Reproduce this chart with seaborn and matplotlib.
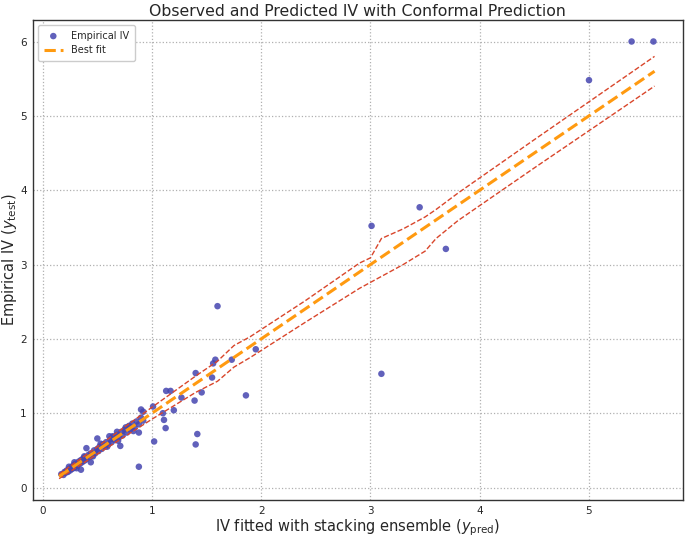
import matplotlib
matplotlib.use("Agg")
import matplotlib.pyplot as plt
import seaborn as sns
import pandas as pd

# predicted (x) and empirical (y) IV values
pred_iv = [
    0.17, 0.19, 0.20, 0.21, 0.22, 0.23, 0.24, 0.25, 0.26, 0.27, 0.28, 0.29, 0.30, 0.31,
    0.32, 0.33, 0.34, 0.35, 0.36, 0.37, 0.38, 0.39, 0.40, 0.42, 0.43, 0.44, 0.45, 0.47,
    0.48, 0.50, 0.51, 0.52, 0.54, 0.55, 0.57, 0.58, 0.60, 0.62, 0.63, 0.65, 0.66, 0.68,
    0.70, 0.72, 0.73, 0.75, 0.77, 0.79, 0.80, 0.82, 0.84, 0.86, 0.88, 0.90, 0.92,
    0.24, 0.31, 0.38, 0.46, 0.53, 0.59, 0.64, 0.69, 0.76, 0.83,
    0.29, 0.35, 0.40, 0.44, 0.50, 0.61, 0.68, 0.71, 0.79, 0.88, 0.88,
    0.90, 0.92, 1.01, 1.02, 1.10, 1.11, 1.125, 1.13, 1.17, 1.20, 1.27, 1.39, 1.40,
    1.40, 1.415, 1.455, 1.55, 1.56, 1.58, 1.60, 1.73, 1.86, 1.95,
    3.01, 3.10, 3.45, 3.69, 5.00, 5.39, 5.59,
]
empirical_iv = [
    0.18, 0.17, 0.21, 0.20, 0.23, 0.21, 0.25, 0.23, 0.27, 0.25, 0.30, 0.27, 0.32, 0.29,
    0.31, 0.35, 0.32, 0.37, 0.34, 0.39, 0.36, 0.41, 0.38, 0.44, 0.41, 0.46, 0.43, 0.50,
    0.46, 0.52, 0.49, 0.55, 0.52, 0.58, 0.55, 0.61, 0.58, 0.65, 0.61, 0.68, 0.64, 0.71,
    0.68, 0.75, 0.70, 0.78, 0.74, 0.82, 0.78, 0.86, 0.81, 0.89, 0.85, 0.94, 0.90,
    0.28, 0.26, 0.42, 0.42, 0.59, 0.55, 0.69, 0.63, 0.81, 0.76,
    0.34, 0.24, 0.53, 0.34, 0.66, 0.69, 0.75, 0.56, 0.83, 0.74, 0.28,
    1.05, 1.02, 1.09, 0.62, 1.00, 0.91, 0.80, 1.30, 1.30, 1.04, 1.21, 1.17, 0.58,
    1.54, 0.72, 1.28, 1.48, 1.67, 1.72, 2.44, 1.72, 1.24, 1.86,
    3.52, 1.53, 3.77, 3.21, 5.48, 6.00, 6.00,
]

# best fit line and conformal band edges
fit_x = [0.15, 0.50, 1.00, 1.40, 1.60, 1.75, 1.90, 2.40, 2.90, 3.00, 3.10, 3.30, 3.50, 3.60, 3.80, 4.50, 5.60]
fit_y = [0.15, 0.50, 1.00, 1.40, 1.60, 1.75, 1.90, 2.40, 2.90, 3.00, 3.10, 3.30, 3.50, 3.60, 3.80, 4.50, 5.60]
band_upper = [0.18, 0.55, 1.08, 1.50, 1.70, 1.91, 2.03, 2.51, 3.02, 3.09, 3.35, 3.48, 3.64, 3.74, 3.96, 4.68, 5.80]
band_lower = [0.12, 0.45, 0.92, 1.28, 1.43, 1.62, 1.75, 2.22, 2.68, 2.76, 2.84, 3.00, 3.18, 3.35, 3.59, 4.30, 5.40]

df_pts = pd.DataFrame({"pred": pred_iv, "emp": empirical_iv})
df_fit = pd.DataFrame({"x": fit_x, "fit": fit_y, "up": band_upper, "lo": band_lower})

sns.set_style("white")
fig = plt.figure(figsize=(6.85, 5.39), dpi=100)
ax = fig.add_axes([0.048, 0.072, 0.949, 0.891])

sns.scatterplot(data=df_pts, x="pred", y="emp", ax=ax, color="#4545b0", alpha=0.85,
                s=22, edgecolor="none", label="Empirical IV", zorder=3)
sns.lineplot(data=df_fit, x="x", y="up", ax=ax, color="#d9462b", lw=1.0,
             linestyle="--", sort=False, estimator=None, zorder=4)
sns.lineplot(data=df_fit, x="x", y="lo", ax=ax, color="#d9462b", lw=1.0,
             linestyle="--", sort=False, estimator=None, zorder=4)
sns.lineplot(data=df_fit, x="x", y="fit", ax=ax, color="#ff9a10", lw=2.2,
             linestyle="--", sort=False, estimator=None, label="Best fit", zorder=5)

ax.set_xlim(-0.09, 5.86)
ax.set_ylim(-0.17, 6.29)
ax.set_xticks([0, 1, 2, 3, 4, 5])
ax.set_yticks([0, 1, 2, 3, 4, 5, 6])
ax.tick_params(labelsize=7.5, length=3, pad=1.5, color="#444444")
ax.grid(True, linestyle=":", color="#b0b0b0", lw=0.9)
for sp in ax.spines.values():
    sp.set_color("#333333")
    sp.set_linewidth(1.0)

ax.set_title("Observed and Predicted IV with Conformal Prediction", fontsize=11.3, pad=3)
ax.set_xlabel("IV fitted with stacking ensemble ($y_{\\rm pred}$)", fontsize=10.5, labelpad=1)
ax.set_ylabel("Empirical IV ($y_{\\rm test}$)", fontsize=10.5, labelpad=1)

ax.legend(loc="upper left", fontsize=7, frameon=True, framealpha=1, edgecolor="#cccccc",
          handlelength=2.0, borderpad=0.6)

fig.savefig("out.png", dpi=100)
